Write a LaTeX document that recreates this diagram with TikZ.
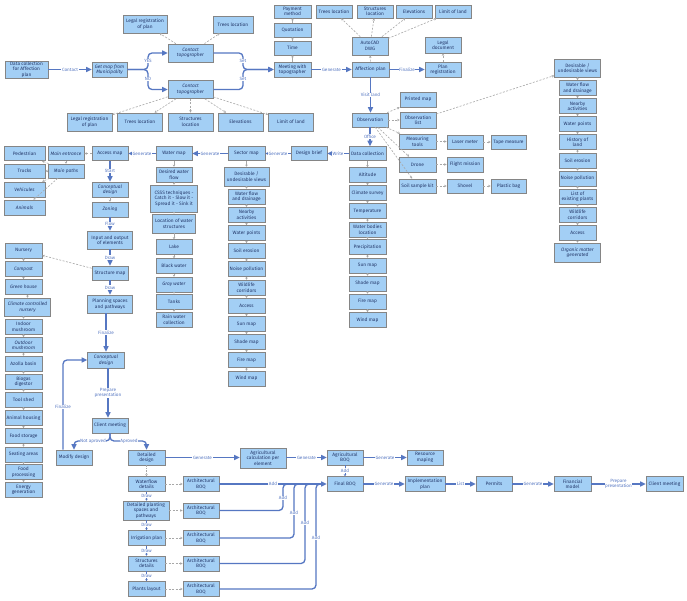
\documentclass[tikz,border=0pt]{standalone}
\usepackage{fontspec}
\setmainfont{Fira Sans}
\usetikzlibrary{arrows.meta}
\definecolor{boxfill}{HTML}{A3CFF5}
\definecolor{boxline}{HTML}{858585}
\definecolor{boxtext}{HTML}{24386A}
\definecolor{mainblue}{HTML}{5677C2}
\definecolor{dashgray}{HTML}{A8A8A8}
\newcommand{\bxfont}{\fontsize{4.8}{5.5}\selectfont}
\newcommand{\lbfont}{\fontsize{4.6}{5.1}\selectfont}
\tikzset{
 bx/.style={draw=boxline, fill=boxfill, line width=0.7pt, text=boxtext, font=\bxfont, align=center, inner sep=0.5pt, minimum width=37pt, minimum height=15pt},
 wd/.style={minimum width=45pt, minimum height=18pt},
 it/.style={font=\bxfont\itshape},
 mainarr/.style={draw=mainblue, line width=1.3pt, -{Triangle[length=5.5pt,width=5pt]}},
 mainline/.style={draw=mainblue, line width=1.3pt},
 lbl/.style={fill=white, text=mainblue, font=\lbfont, inner sep=0.6pt, align=center},
 dsh/.style={draw=dashgray, line width=0.6pt, dash pattern=on 2pt off 1.5pt, -{Stealth[length=2.5pt,width=2.5pt]}},
 tick/.style={draw=dashgray, line width=0.6pt, -{Stealth[length=2pt,width=2.5pt]}},
 thinb/.style={draw=mainblue, line width=0.6pt, -{Stealth[length=2pt,width=2.5pt]}},
}
\begin{document}
\begin{tikzpicture}[x=1pt,y=-1pt]
\fill[white] (0,0) rectangle (687,600);
\useasboundingbox (0,0) rectangle (687,600);

% ---------- top section ----------
\node[bx, minimum width=43pt, minimum height=17pt] (dcap) at (26.5,69.5) {Data collection\\for Affection\\plan};
\node[bx, it, minimum width=35pt] (getmap) at (109.5,69.5) {Get map from\\Municipality};
\node[bx, wd, it] (ct1) at (190.5,53) {Contact\\topographer};
\node[bx, wd, it] (ct2) at (190.5,89.5) {Contact\\topographer};
\node[bx, minimum width=44pt, minimum height=18pt] (lr1) at (145,24) {Legal registration\\of plan};
\node[bx, minimum width=40pt, minimum height=17pt] (tl1) at (233,24.5) {Trees location};
\node[bx, wd] (lr2) at (89.5,122) {Legal registration\\of plan};
\node[bx, wd] (tl2) at (140,122) {Trees location};
\node[bx, wd] (sl2) at (190.5,122) {Structures\\location};
\node[bx, wd] (el2) at (240.5,122) {Elevations};
\node[bx, wd] (ll2) at (291,122) {Limit of land};
\node[bx] (meet) at (292.5,69.5) {Meeting with\\topographer};
\node[bx, minimum height=14pt] (time) at (292.5,48) {Time};
\node[bx, minimum height=14pt] (quot) at (292.5,30) {Quotation};
\node[bx, minimum height=13pt] (pay) at (292.5,11.5) {Payment\\method};
\node[bx, minimum width=36pt, minimum height=13pt] (tl3) at (334,11.5) {Trees location};
\node[bx, minimum width=36pt, minimum height=13pt] (sl3) at (375,11.5) {Structures\\location};
\node[bx, minimum width=36pt, minimum height=13pt] (el3) at (414,11.5) {Elevations};
\node[bx, minimum width=36pt, minimum height=13pt] (ll3) at (453,11.5) {Limit of land};
\node[bx, minimum width=36pt, minimum height=18pt] (acad) at (370,46) {AutoCAD\\DWG};
\node[bx] (aff) at (370.5,69.5) {Affection plan};
\node[bx, minimum width=36pt, minimum height=16pt] (legdoc) at (443,45) {Legal\\document};
\node[bx, minimum width=36pt] (planreg) at (443,69.5) {Plan\\registration};
\node[bx, minimum width=36pt, minimum height=14pt] (obs) at (370,120) {Observation};
\node[bx, minimum width=36pt] (pmap) at (418,99.5) {Printed map};
\node[bx, minimum width=36pt, minimum height=16pt] (olist) at (418,120) {Observation\\list};
\node[bx] (mtools) at (417.5,141.5) {Measuring\\tools};
\node[bx, minimum width=36pt, minimum height=14pt] (laser) at (465,142) {Laser meter};
\node[bx, minimum width=35pt, minimum height=14pt] (tape) at (508.5,142) {Tape measure};
\node[bx] (drone) at (417.5,164.5) {Drone};
\node[bx, minimum width=36pt] (flight) at (465,164.5) {Flight mission};
\node[bx, minimum height=14pt] (soil) at (417.5,186) {Soil sample kit};
\node[bx, minimum width=36pt, minimum height=14pt] (shovel) at (465,186) {Shovel};
\node[bx, minimum width=35pt, minimum height=14pt] (bag) at (508.5,186) {Plastic bag};

% right column
\node[bx, minimum width=46pt, minimum height=18pt] (r1) at (577.5,68) {Desirable /\\undesirable views};
\node[bx] (r2) at (577.5,88) {Water flow\\and drainage};
\node[bx] (r3) at (577.5,106) {Nearby\\activities};
\node[bx] (r4) at (577.5,124) {Water points};
\node[bx] (r5) at (577.5,142) {History of\\land};
\node[bx] (r6) at (577.5,160.5) {Soil erosion};
\node[bx] (r7) at (577.5,178.5) {Noise pollution};
\node[bx] (r8) at (577.5,196.5) {List of\\existing plants};
\node[bx] (r9) at (577.5,214.5) {Wildlife\\corridors};
\node[bx] (r10) at (577.5,233) {Access};
\node[bx, it, minimum width=46pt, minimum height=19pt] (r11) at (577.5,252.5) {Organic matter\\generated};

% data collection column
\node[bx, minimum height=14pt] (dc) at (367.5,153.5) {Data collection};
\node[bx] (d1) at (367.5,175) {Altitude};
\node[bx] (d2) at (367.5,193) {Climate survey};
\node[bx] (d3) at (367.5,211) {Temperature};
\node[bx] (d4) at (367.5,229.5) {Water bodies\\location};
\node[bx] (d5) at (367.5,247) {Precipitation};
\node[bx] (d6) at (367.5,265.5) {Sun map};
\node[bx] (d7) at (367.5,283.5) {Shade map};
\node[bx] (d8) at (367.5,301.5) {Fire map};
\node[bx] (d9) at (367.5,320) {Wind map};

\node[bx, minimum width=36pt, minimum height=14pt] (brief) at (309,153.5) {Design brief};
\node[bx, minimum height=14pt] (sector) at (246.5,153.5) {Sector map};
% sector column
\node[bx, wd, minimum height=19pt] (s1) at (246.5,176.5) {Desirable /\\undesirable views};
\node[bx] (s2) at (246.5,196.5) {Water flow\\and drainage};
\node[bx] (s3) at (246.5,214.7) {Nearby\\activities};
\node[bx] (s4) at (246.5,233) {Water points};
\node[bx] (s5) at (246.5,251) {Soil erosion};
\node[bx] (s6) at (246.5,269.3) {Noise pollution};
\node[bx] (s7) at (246.5,287.5) {Wildlife\\corridors};
\node[bx] (s8) at (246.5,305.7) {Access};
\node[bx] (s9) at (246.5,324) {Sun map};
\node[bx] (s10) at (246.5,342) {Shade map};
\node[bx] (s11) at (246.5,360) {Fire map};
\node[bx] (s12) at (246.5,378.5) {Wind map};

\node[bx, minimum width=36pt, minimum height=14pt] (water) at (174,153.5) {Water map};
% water column
\node[bx, minimum width=36pt] (w1) at (174,174.5) {Desired water\\flow};
\node[bx, minimum width=47pt, minimum height=27pt] (w2) at (174,198.5) {CSSS techniques -\\Catch it - Slow it -\\Spread it - Sink it};
\node[bx, minimum width=43pt, minimum height=19pt] (w3) at (174,223.5) {Location of water\\structures};
\node[bx, minimum width=36pt] (w4) at (174,247) {Lake};
\node[bx, minimum width=36pt] (w5) at (174,266) {Black water};
\node[bx, it, minimum width=36pt] (w6) at (174,284.5) {Gray water};
\node[bx, minimum width=36pt] (w7) at (174,301.5) {Tanks};
\node[bx, minimum width=36pt] (w8) at (174,319.5) {Rain water\\collection};

\node[bx, minimum width=36pt, minimum height=14pt] (access) at (110,153.5) {Access map};
\node[bx, it, minimum width=36pt, minimum height=14pt] (mentr) at (66,153.5) {Main entrance};
\node[bx, it, minimum width=36pt, minimum height=14pt] (mpaths) at (66,171) {Main paths};
\node[bx, minimum width=41pt, minimum height=14pt] (ped) at (24.5,153.5) {Pedestrian};
\node[bx, minimum width=41pt, minimum height=14pt] (trucks) at (24.5,171) {Trucks};
\node[bx, it, minimum width=41pt, minimum height=15pt] (veh) at (24.5,189.5) {Vehicules};
\node[bx, it, minimum width=41pt, minimum height=15pt] (animals) at (24.5,207.5) {Animals};

\node[bx, it, minimum width=36pt] (cd1) at (110,189.5) {Conceptual\\design};
\node[bx, it, minimum width=36pt] (zoning) at (110,209.5) {Zoning};
\node[bx, wd] (io) at (110,240) {Input and output\\of elements};
\node[bx, minimum width=36pt, minimum height=14pt] (smap) at (110,273) {Structure map};
\node[bx, wd] (plan) at (110,304) {Planning spaces\\and pathways};

% left column
\node[bx] (n1) at (23.5,250.5) {Nursery};
\node[bx, it] (n2) at (23.5,269) {Compost};
\node[bx, it] (n3) at (23.5,287) {Green house};
\node[bx, it, minimum width=46pt, minimum height=18pt] (n4) at (27.5,307) {Climate controlled\\nursery};
\node[bx] (n5) at (23.5,326.5) {Indoor\\mushroom};
\node[bx, it] (n6) at (23.5,345) {Outdoor\\mushroom};
\node[bx] (n7) at (23.5,363.5) {Azolla basin};
\node[bx] (n8) at (23.5,381.5) {Biogas\\digestor};
\node[bx] (n9) at (23.5,399.5) {Tool shed};
\node[bx] (n10) at (23.5,418) {Animal housing};
\node[bx] (n11) at (23.5,436) {Food storage};
\node[bx] (n12) at (23.5,454.5) {Seating areas};
\node[bx] (n13) at (23.5,472) {Food\\processing};
\node[bx] (n14) at (23.5,490) {Energy\\generation};

% lower section
\node[bx, it, minimum height=16pt] (cd2) at (106,360) {Conceptual\\design};
\node[bx, minimum width=36pt] (client) at (110,425.5) {Client meeting};
\node[bx, minimum width=36pt] (modify) at (74,457.5) {Modify design};
\node[bx] (detail) at (146.5,457.5) {Detailed\\design};
\node[bx, minimum width=46pt, minimum height=20pt] (agcalc) at (263,458) {Agricultural\\calculation per\\element};
\node[bx, minimum width=36pt] (agboq) at (345,457.5) {Agricultural\\BOQ};
\node[bx, minimum width=36pt] (resource) at (425,457.5) {Resource\\maping};
\node[bx, minimum width=36pt] (fboq) at (345,484) {Final BOQ};
\node[bx, minimum width=40pt] (impl) at (425,484) {Implementation\\plan};
\node[bx, minimum width=36pt] (permits) at (494,484) {Permits};
\node[bx] (fin) at (572.5,484) {Financial\\model};
\node[bx] (client2) at (664.5,484) {Client meeting};

\node[bx] (wf) at (146.5,484) {Waterflow\\details};
\node[bx, minimum width=46pt, minimum height=19pt] (dps) at (146,510.5) {Detailed planting\\spaces and\\pathways};
\node[bx] (irr) at (146.5,538) {Irrigation plan};
\node[bx] (sdet) at (146.5,563.5) {Structures\\details};
\node[bx] (play) at (146.5,589) {Plants layout};
\node[bx, minimum width=36pt] (ab1) at (201,484) {Architectural\\BOQ};
\node[bx, minimum width=36pt] (ab2) at (201,510.5) {Architectural\\BOQ};
\node[bx, minimum width=36pt] (ab3) at (201,538) {Architectural\\BOQ};
\node[bx, minimum width=36pt] (ab4) at (201,563.5) {Architectural\\BOQ};
\node[bx, minimum width=36pt] (ab5) at (201,589) {Architectural\\BOQ};

% ---------- main connectors ----------
\draw[mainarr] (dcap) -- node[lbl]{Contact} (getmap);
\draw[mainarr, rounded corners=4pt] (getmap.east) -- (148,69.5) -- (148,53) -- (ct1.west);
\draw[mainarr, rounded corners=4pt] (getmap.east) -- (148,69.5) -- (148,89.5) -- (ct2.west);
\node[lbl] (lyes) at (148,61) {YES};
\node[lbl] (lno) at (148,79) {NO};
\draw[mainarr, rounded corners=4pt] (ct1.east) -- (243,53) -- (243,69.5) -- (meet.west);
\draw[mainarr, rounded corners=4pt] (ct2.east) -- (243,89.5) -- (243,69.5) -- (meet.west);
\node[lbl] (lset1) at (243,61) {Set};
\node[lbl] (lset2) at (243,79) {Set};
\draw[mainarr] (meet) -- node[lbl]{Generate} (aff);
\draw[mainarr] (aff) -- node[lbl]{Finalize} (planreg);
\draw[mainarr] (aff.south) -- node[lbl]{Visit land} (aff.south |- obs.north);
\draw[mainarr] (obs.south) -- node[lbl]{Office} (obs.south |- dc.north);
\draw[mainarr] (dc) -- node[lbl]{Write} (brief);
\draw[mainarr] (brief) -- node[lbl]{Generate} (sector);
\draw[mainarr] (sector) -- node[lbl]{Generate} (water);
\draw[mainarr] (water) -- node[lbl]{Generate} (access);
\draw[mainarr] (access) -- node[lbl]{Start} (cd1);
\draw[mainarr] (zoning) -- node[lbl]{Flow} (io);
\draw[mainarr] (io) -- node[lbl]{Draw} (smap);
\draw[mainarr] (smap) -- node[lbl]{Draw} (plan);
\draw[mainarr] (plan.south -| cd2.north) -- node[lbl]{Finalize} (cd2.north);
\draw[mainarr] ([xshift=2pt]cd2.south) -- node[lbl]{Prepare\\presentation} ([xshift=2pt]cd2.south |- client.north);
\draw[mainarr, rounded corners=4pt] (client.south) -- (110,441) -- (74,441) -- (modify.north);
\draw[mainarr, rounded corners=4pt] (client.south) -- (110,441) -- (146.5,441) -- (detail.north);
\node[lbl] (lnot) at (93,441) {Not aproved};
\node[lbl] (lapr) at (129,441) {Aproved};
\draw[mainarr, rounded corners=4pt] ([xshift=-11pt]modify.north) |- (cd2.west);
\node[lbl] (lfin2) at (63,407) {Finalize};
\draw[mainarr] (detail.east) -- node[lbl]{Generate} (detail.east -| agcalc.west);
\draw[mainarr] (agcalc.east |- agboq.east) -- node[lbl]{Generate} (agboq.west);
\draw[mainarr] (agboq) -- node[lbl]{Generate} (resource);
\draw[thinb] (agboq.south) -- node[lbl]{Add} (fboq.north);
\draw[mainarr] (fboq) -- node[lbl]{Generate} (impl);
\draw[mainarr] (impl) -- node[lbl]{List} (permits);
\draw[mainarr] (permits) -- node[lbl]{Generate} (fin);
\draw[mainarr] (fin) -- node[lbl]{Prepare\\presentation} (client2);

\draw[mainline, rounded corners=4pt] (ab2.east) -- (283,510.5) -- (283,484) -- (300,484);
\draw[mainline, rounded corners=4pt] (ab3.east) -- (294,538) -- (294,484) -- (305,484);
\draw[mainline, rounded corners=4pt] (ab4.east) -- (305,563.5) -- (305,484) -- (315,484);
\draw[mainline, rounded corners=4pt] (ab5.east) -- (316,589) -- (316,484) -- (322,484);
\draw[mainarr] (ab1) -- node[lbl]{Add} (fboq);
\node[lbl] (ladd2) at (283,498) {Add};
\node[lbl] (ladd3) at (294,513) {Add};
\node[lbl] (ladd4) at (305,523) {Add};
\node[lbl] (ladd5) at (316,538) {Add};

\draw[tick, dash pattern=on 1.5pt off 1pt] (detail) -- (wf);
\draw[thinb] (wf) -- node[lbl]{Draw} (wf.south |- dps.north);
\draw[thinb] (dps.south -| irr.north) -- node[lbl]{Draw} (irr.north);
\draw[thinb] (irr) -- node[lbl]{Draw} (sdet);
\draw[thinb] (sdet) -- node[lbl]{Draw} (play);
\draw[dsh] (wf) -- (ab1);
\draw[dsh] (dps) -- (dps -| ab2.west);
\draw[dsh] (irr) -- (ab3);
\draw[dsh] (sdet) -- (ab4);
\draw[dsh] (play) -- (ab5);

% ---------- dashed / small connectors ----------
\draw[dsh] (ct1) -- (lr1);
\draw[dsh] (ct1) -- (tl1);
\foreach \t in {lr2,tl2,sl2,el2,ll2} \draw[dsh] (ct2) -- (\t);
\draw[tick] (meet) -- (time);
\draw[tick] (time) -- (quot);
\draw[tick] (quot) -- (pay);
\draw[dsh] (aff) -- (acad);
\foreach \t in {tl3,sl3,el3,ll3} \draw[dsh] (acad) -- (\t);
\draw[dsh] (planreg) -- (legdoc);
\foreach \t in {pmap,olist,mtools,drone,soil} \draw[dsh] (obs) -- (\t);
\draw[dsh] (mtools) -- (mtools -| laser.west);
\draw[dsh] (laser) -- (tape);
\draw[dsh] (drone) -- (flight);
\draw[dsh] (soil) -- (shovel);
\draw[dsh] (shovel) -- (bag);
\draw[dsh] (olist) -- (r1);
\draw[dsh] (access) -- (mentr);
\draw[tick] (mentr) -- (mpaths);
\foreach \t in {ped,trucks,veh,animals} \draw[dsh] (mpaths) -- (\t);
\draw[dsh] (smap) -- (n1);
\draw[tick] (cd1) -- (zoning);
\foreach \a/\b in {r1/r2,r2/r3,r3/r4,r4/r5,r5/r6,r6/r7,r7/r8,r8/r9,r9/r10,r10/r11,
  dc/d1,d1/d2,d2/d3,d3/d4,d4/d5,d5/d6,d6/d7,d7/d8,d8/d9,
  sector/s1,s1/s2,s2/s3,s3/s4,s4/s5,s5/s6,s6/s7,s7/s8,s8/s9,s9/s10,s10/s11,s11/s12,
  water/w1,w1/w2,w2/w3,w3/w4,w4/w5,w5/w6,w6/w7,w7/w8,
  n1/n2,n2/n3,n3/n4,n4/n5,n5/n6,n6/n7,n7/n8,n8/n9,n9/n10,n10/n11,n11/n12,n12/n13,n13/n14}
  \draw[tick] (\a.south -| \b.north) -- (\b.north);
\end{tikzpicture}
\end{document}
